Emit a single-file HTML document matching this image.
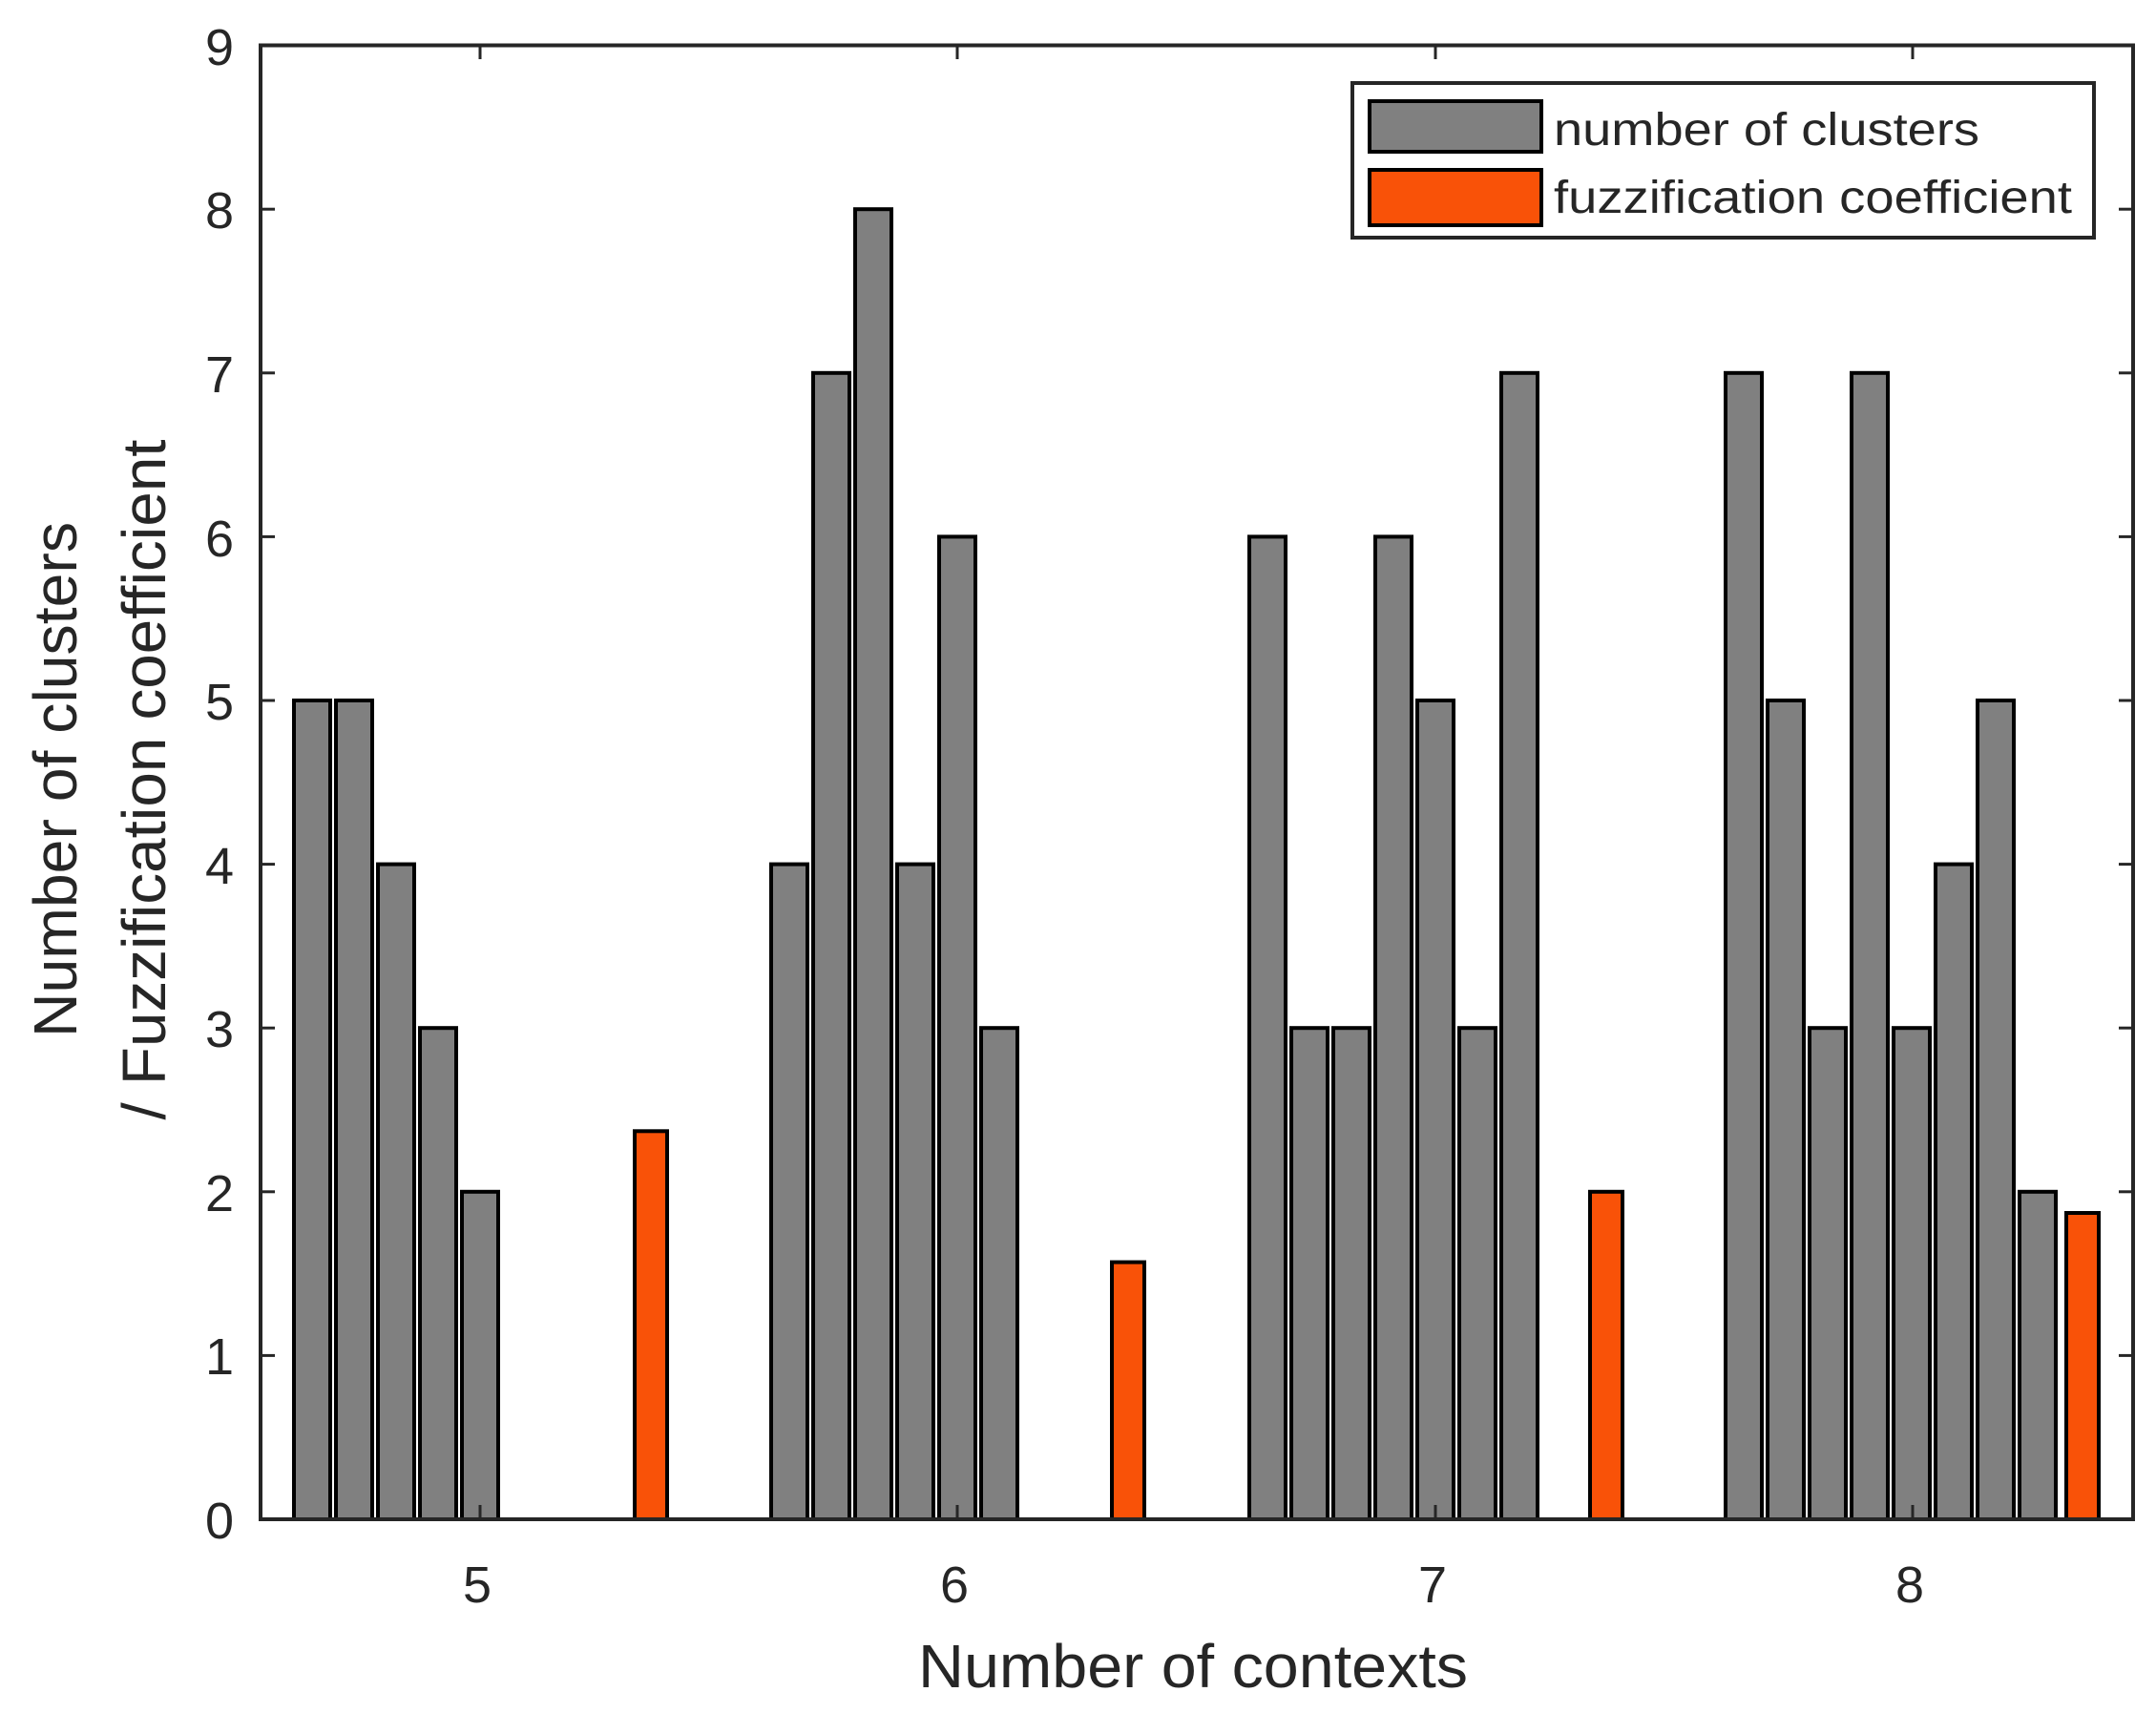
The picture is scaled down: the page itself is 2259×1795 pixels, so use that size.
<!DOCTYPE html>
<html><head><meta charset="utf-8"><style>
html,body{margin:0;padding:0;background:#fff;}
svg{display:block;}
text{font-family:"Liberation Sans",Arial,sans-serif;fill:#262626;}
</style></head><body>
<svg width="2259" height="1795" viewBox="0 0 2259 1795" xmlns="http://www.w3.org/2000/svg">
<g id="bars" stroke="#000" stroke-width="4">
<rect x="308" y="734" width="38" height="858" fill="#808080"/>
<rect x="352" y="734" width="38" height="858" fill="#808080"/>
<rect x="396" y="905.6" width="38" height="686.4" fill="#808080"/>
<rect x="440" y="1077.2" width="38" height="514.8" fill="#808080"/>
<rect x="484" y="1248.8" width="38" height="343.2" fill="#808080"/>
<rect x="665" y="1185.3" width="34" height="406.7" fill="#F95208"/>
<rect x="808" y="905.6" width="38" height="686.4" fill="#808080"/>
<rect x="852" y="390.8" width="38" height="1201.2" fill="#808080"/>
<rect x="896" y="219.2" width="38" height="1372.8" fill="#808080"/>
<rect x="940" y="905.6" width="38" height="686.4" fill="#808080"/>
<rect x="984" y="562.4" width="38" height="1029.6" fill="#808080"/>
<rect x="1028" y="1077.2" width="38" height="514.8" fill="#808080"/>
<rect x="1165" y="1322.6" width="34" height="269.4" fill="#F95208"/>
<rect x="1309" y="562.4" width="38" height="1029.6" fill="#808080"/>
<rect x="1353" y="1077.2" width="38" height="514.8" fill="#808080"/>
<rect x="1397" y="1077.2" width="38" height="514.8" fill="#808080"/>
<rect x="1441" y="562.4" width="38" height="1029.6" fill="#808080"/>
<rect x="1485" y="734" width="38" height="858" fill="#808080"/>
<rect x="1529" y="1077.2" width="38" height="514.8" fill="#808080"/>
<rect x="1573" y="390.8" width="38" height="1201.2" fill="#808080"/>
<rect x="1666" y="1248.8" width="34" height="343.2" fill="#F95208"/>
<rect x="1808" y="390.8" width="38" height="1201.2" fill="#808080"/>
<rect x="1852" y="734" width="38" height="858" fill="#808080"/>
<rect x="1896" y="1077.2" width="38" height="514.8" fill="#808080"/>
<rect x="1940" y="390.8" width="38" height="1201.2" fill="#808080"/>
<rect x="1984" y="1077.2" width="38" height="514.8" fill="#808080"/>
<rect x="2028" y="905.6" width="38" height="686.4" fill="#808080"/>
<rect x="2072" y="734" width="38" height="858" fill="#808080"/>
<rect x="2116" y="1248.8" width="38" height="343.2" fill="#808080"/>
<rect x="2165" y="1271" width="34" height="321" fill="#F95208"/>
</g>
<rect x="273" y="47.5" width="1962" height="1544.5" fill="none" stroke="#262626" stroke-width="4"/>
<g stroke="#262626" stroke-width="3">
<line x1="273" y1="1420.4" x2="288" y2="1420.4"/><line x1="273" y1="1248.8" x2="288" y2="1248.8"/>
<line x1="273" y1="1077.2" x2="288" y2="1077.2"/><line x1="273" y1="905.6" x2="288" y2="905.6"/>
<line x1="273" y1="734" x2="288" y2="734"/><line x1="273" y1="562.4" x2="288" y2="562.4"/>
<line x1="273" y1="390.8" x2="288" y2="390.8"/><line x1="273" y1="219.2" x2="288" y2="219.2"/>
<line x1="2235" y1="1420.4" x2="2220" y2="1420.4"/><line x1="2235" y1="1248.8" x2="2220" y2="1248.8"/>
<line x1="2235" y1="1077.2" x2="2220" y2="1077.2"/><line x1="2235" y1="905.6" x2="2220" y2="905.6"/>
<line x1="2235" y1="734" x2="2220" y2="734"/><line x1="2235" y1="562.4" x2="2220" y2="562.4"/>
<line x1="2235" y1="390.8" x2="2220" y2="390.8"/><line x1="2235" y1="219.2" x2="2220" y2="219.2"/>
<line x1="503" y1="1592" x2="503" y2="1577"/><line x1="1003" y1="1592" x2="1003" y2="1577"/>
<line x1="1504" y1="1592" x2="1504" y2="1577"/><line x1="2004" y1="1592" x2="2004" y2="1577"/>
<line x1="503" y1="47.5" x2="503" y2="62"/><line x1="1003" y1="47.5" x2="1003" y2="62"/>
<line x1="1504" y1="47.5" x2="1504" y2="62"/><line x1="2004" y1="47.5" x2="2004" y2="62"/>
</g>
<g font-size="54" text-anchor="end">
<text x="245" y="1612">0</text><text x="245" y="1440">1</text><text x="245" y="1269">2</text>
<text x="245" y="1097">3</text><text x="245" y="926">4</text><text x="245" y="754">5</text>
<text x="245" y="583">6</text><text x="245" y="411">7</text><text x="245" y="239">8</text>
<text x="245" y="68">9</text>
</g>
<g font-size="54" text-anchor="middle">
<text x="500" y="1679">5</text><text x="1000" y="1679">6</text>
<text x="1501" y="1679">7</text><text x="2001" y="1679">8</text>
</g>
<text x="1250" y="1768" font-size="64" text-anchor="middle" textLength="576" lengthAdjust="spacingAndGlyphs">Number of contexts</text>
<text transform="translate(80,817) rotate(-90)" font-size="64" text-anchor="middle" textLength="540" lengthAdjust="spacingAndGlyphs">Number of clusters</text>
<text transform="translate(173,817) rotate(-90)" font-size="64" text-anchor="middle" textLength="713" lengthAdjust="spacingAndGlyphs">/ Fuzzification coefficient</text>
<rect x="1417" y="87" width="777" height="162" fill="#fff" stroke="#262626" stroke-width="4"/>
<rect x="1435" y="106" width="180" height="53" fill="#808080" stroke="#000" stroke-width="4"/>
<rect x="1435" y="178" width="180" height="58" fill="#F95208" stroke="#000" stroke-width="4"/>
<text x="1628" y="152" font-size="48" textLength="446" lengthAdjust="spacingAndGlyphs">number of clusters</text>
<text x="1628" y="223" font-size="48" textLength="543" lengthAdjust="spacingAndGlyphs">fuzzification coefficient</text>
</svg>
</body></html>
